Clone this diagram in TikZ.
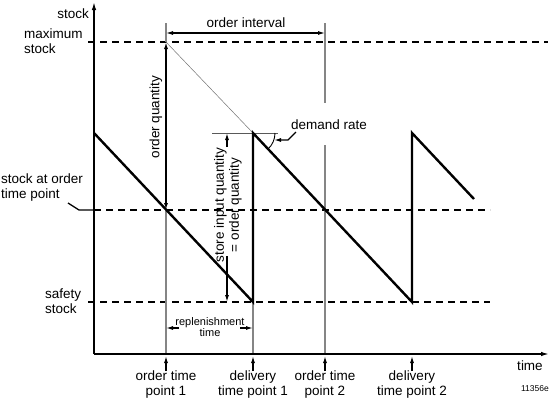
\documentclass[tikz,border=0pt]{standalone}
\usepackage{fontspec}
\setmainfont{Liberation Sans}
\usetikzlibrary{arrows.meta}
\begin{document}
\begin{tikzpicture}[x=1pt,y=-1pt,
  lbl/.style={font=\fontsize{13.5}{15}\selectfont, inner sep=0pt},
  smalllbl/.style={font=\fontsize{11}{11.5}\selectfont, align=center, inner sep=0pt},
  axisline/.style={line width=1.4pt, -{Latex[length=8pt,width=4.5pt]}},
  dashline/.style={line width=1.5pt, dash pattern=on 7pt off 5pt},
  grayline/.style={line width=2pt, black!48},
  saw/.style={line width=2.4pt, line join=miter},
  arr/.style={line width=1.2pt, -{Latex[length=7pt,width=4pt]}},
  dblarr/.style={line width=1.4pt, {Latex[length=7pt,width=4pt]}-{Latex[length=7pt,width=4pt]}}
]
\useasboundingbox (0,0) rectangle (550,399);

% key points
\coordinate (O) at (94,354);
\coordinate (ytop) at (94,2);
\coordinate (xend) at (549,354);
\coordinate (s0) at (94,133);
\coordinate (b1) at (253,302);
\coordinate (p1) at (253,133);
\coordinate (b2) at (412,302);
\coordinate (p2) at (412,133);
\coordinate (s3) at (474,199);
\coordinate (m1) at (166,42);
\coordinate (r1) at (166,210);

% dashed levels
\draw[dashline] (88,42) -- (548,42);
\draw[dashline] (94,210) -- (490,210);
\draw[line width=1.3pt] (68,203) -- (79,210) -- (94,210);
\draw[dashline] (88,302) -- (490,302);

% grey time lines
\draw[grayline] (166,23) -- (m1);
\draw[grayline] (r1) -- (166,354);
\draw[grayline] (253,133) -- (253,354);
\draw[grayline] (325,23) -- (325,103);
\draw[grayline] (325,145) -- (325,354);

% thin demand extension and top line
\draw[line width=0.5pt, black!55] (m1) -- (p1);
\draw[line width=0.9pt, black!65] (212,133) -- (278,133);

% sawtooth
\draw[saw] (s0) -- (b1) -- (p1) -- (b2) -- (p2) -- (s3);

% axes
\draw[axisline] (O) -- (ytop);
\draw[axisline] (O) -- (xend);

% order quantity
\draw[dblarr] (m1) -- (r1);
\node[lbl, rotate=90] (oq) at (156,117) {order quantity};

% order interval
\coordinate (oi1) at (166,33);
\coordinate (oi2) at (325,33);
\draw[dblarr, line width=1.1pt] (oi1) -- (oi2);
\node[lbl] (oil) at (246,23) {order interval};

% store input quantity
\node[lbl, rotate=90, align=center] (sip) at (228,205) {store input quantity\\= order quantity};
\coordinate (sipa) at (227,147);
\coordinate (sipb) at (227,256);
\coordinate (siptop) at (227,133);
\coordinate (sipbot) at (227,302);
\draw[arr] (sipa) -- (siptop);
\draw[arr] (sipb) -- (sipbot);

% demand rate
\draw[line width=0.9pt] (p1) ++(22,0) arc[start angle=0, end angle=46.8, radius=22];
\node[lbl] (dr) at (329,125) {demand rate};
\coordinate (drtip) at (274,140);
\draw[arr] (296,132) -- (288,140) -- (drtip);

% replenishment time
\node[smalllbl] (rt) at (210,327) {replenishment\\time};
\coordinate (rtl) at (166,328);
\coordinate (rtr) at (253,328);
\draw[arr] (179,328) -- (rtl);
\draw[arr] (240,328) -- (rtr);

% time markers
\foreach \x/\n in {166/t1,253/t2,325/t3,412/t4}{
  \coordinate (\n) at (\x,356);
  \draw[arr] (\x,371) -- (\n);
}
\node[lbl, align=center] (l1) at (166,385) {order time\\point 1};
\node[lbl, align=center] (l2) at (253,385) {delivery\\time point 1};
\node[lbl, align=center] (l3) at (325,385) {order time\\point 2};
\node[lbl, align=center] (l4) at (412,385) {delivery\\time point 2};

% axis labels
\node[lbl, anchor=east] (ystock) at (89,14) {stock};
\node[lbl] (xtime) at (530,366) {time};
\node[lbl, anchor=west, align=left] (maxs) at (24,41) {maximum\\stock};
\node[lbl, anchor=west, align=left] (ords) at (1,188) {stock at order\\time point};
\node[lbl, anchor=west, align=left] (safs) at (45,301) {safety\\stock};
\node[font=\fontsize{8.5}{9}\selectfont, inner sep=0pt] (code) at (535,389) {11356e};
\end{tikzpicture}
\end{document}
